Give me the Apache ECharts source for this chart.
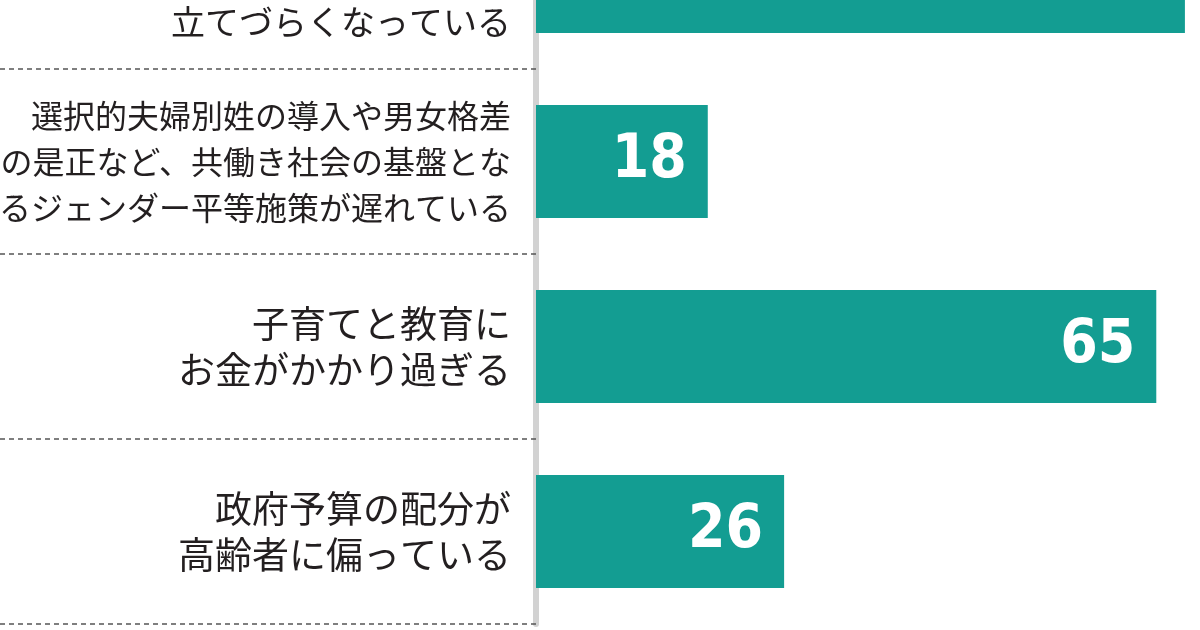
<!DOCTYPE html>
<html>
<head>
<meta charset="utf-8">
<script src="https://cdn.jsdelivr.net/npm/echarts@6/dist/echarts.min.js"></script>
<style>
  html, body { margin: 0; padding: 0; background: #fff; }
  #main { width: 1200px; height: 630px; }
</style>
</head>
<body>
<div id="main"></div>
<script>
// 項目（上端の項目は画像の外に切れている）
const categories = [
  '非正規雇用の増加などで\n若者が将来の見通しを\n立てづらくなっている',
  '選択的夫婦別姓の導入や男女格差\nの是正など、共働き社会の基盤とな\nるジェンダー平等施策が遅れている',
  '子育てと教育に\nお金がかかり過ぎる',
  '政府予算の配分が\n高齢者に偏っている'
];
// 回答の割合（％）
const values = [68, 18, 65, 26];
// 項目ごとの文字サイズ（長い項目は小さめ）
const labelSizes = [34, 32, 37, 37];

const barColor = '#139d92';

let chart = echarts.init(document.getElementById('main'));

let option = {
  backgroundColor: '#ffffff',
  animation: false,
  grid: {
    left: 536,
    top: -116,
    height: 740,
    width: 668,
    containLabel: false,
    outerBoundsMode: 'none'
  },
  xAxis: {
    type: 'value',
    min: 0,
    max: 70,
    show: false
  },
  yAxis: {
    type: 'category',
    inverse: true,
    data: categories.map((c, i) => ({
      value: c,
      textStyle: { fontSize: labelSizes[i] }
    })),
    axisLine: {
      show: true,
      lineStyle: { color: '#d2d2d2', width: 6 }
    },
    // 左側の点線の区切り
    axisTick: {
      show: true,
      length: 536,
      lineStyle: { color: '#555', width: 1.5, type: [5, 4] }
    },
    axisLabel: {
      margin: 25,
      color: '#231f20',
      fontFamily: 'Noto Sans CJK JP',
      lineHeight: 46,
      align: 'right'
    },
    splitLine: { show: false }
  },
  series: [{
    type: 'bar',
    data: values,
    barWidth: 113,
    itemStyle: { color: barColor },
    label: {
      show: true,
      position: 'insideRight',
      distance: 21,
      color: '#ffffff',
      fontFamily: "'DejaVu Sans Condensed', sans-serif",
      fontWeight: 'bold',
      fontSize: 60
    }
  }]
};

chart.setOption(option);
</script>
</body>
</html>
